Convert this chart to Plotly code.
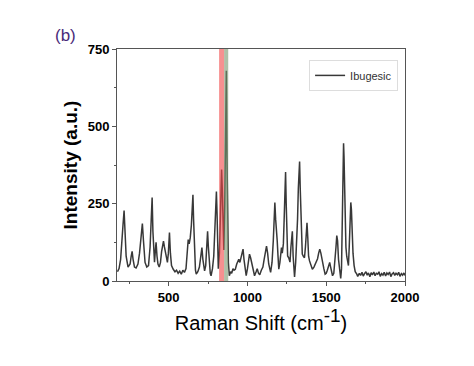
import plotly.graph_objects as go

# Raman shift (cm^-1) and intensity (a.u.)
shift = [175, 185, 195, 202, 210, 217, 222, 230, 242, 255, 262, 268, 274, 283, 293, 305, 315, 325, 333, 340,
         350, 361, 372, 382, 390, 395, 400, 406, 410, 415, 420, 426, 432, 440, 448, 455, 462, 467, 473, 478,
         484, 492, 498, 505, 511, 518, 529, 540, 550, 560, 570, 580, 590, 600, 610, 618, 624, 630, 637, 644,
         650, 654, 658, 664, 670, 675, 685, 695, 703, 711, 717, 723, 728, 735, 741, 747, 752, 758, 764, 769,
         778, 786, 793, 799, 803, 807, 811, 815, 822, 828, 833, 836, 840, 845, 850, 856, 861, 866, 870, 874,
         879, 885, 893, 900, 908, 915, 923, 932, 940, 945, 952, 960, 966, 972, 978, 985, 992, 1000, 1007, 1013,
         1020, 1027, 1035, 1045, 1055, 1062, 1070, 1078, 1088, 1098, 1106, 1114, 1121, 1128, 1135, 1147, 1156, 1164, 1170, 1174,
         1179, 1184, 1189, 1194, 1199, 1206, 1211, 1216, 1221, 1228, 1233, 1238, 1242, 1246, 1250, 1255, 1262, 1270, 1276, 1281,
         1285, 1290, 1294, 1299, 1306, 1313, 1318, 1323, 1327, 1331, 1335, 1340, 1344, 1348, 1355, 1362, 1368, 1373, 1378, 1383,
         1388, 1394, 1402, 1412, 1422, 1430, 1438, 1445, 1452, 1459, 1466, 1472, 1478, 1485, 1493, 1500, 1507, 1514, 1522, 1528,
         1534, 1540, 1548, 1555, 1562, 1567, 1572, 1578, 1585, 1592, 1597, 1601, 1604, 1607, 1610, 1613, 1617, 1621, 1625, 1630,
         1636, 1641, 1646, 1651, 1656, 1660, 1664, 1670, 1677, 1684, 1694, 1700, 1710, 1718, 1727, 1735, 1743, 1752, 1760, 1768,
         1777, 1785, 1793, 1802, 1810, 1818, 1827, 1835, 1843, 1852, 1860, 1868, 1877, 1885, 1893, 1902, 1910, 1918, 1927, 1935,
         1943, 1952, 1960, 1968, 1977, 1985, 1993, 2000]
intensity = [30, 40, 70, 140, 180, 228, 170, 80, 45, 55, 80, 96, 70, 45, 42, 55, 90, 140, 186, 130,
             60, 45, 50, 110, 200, 270, 160, 80, 61, 95, 125, 80, 55, 45, 60, 95, 115, 129, 110, 97,
             75, 60, 90, 157, 90, 50, 38, 30, 35, 25, 32, 22, 35, 28, 40, 90, 134, 120, 140, 180,
             250, 279, 200, 80, 35, 22, 30, 45, 75, 108, 70, 40, 33, 50, 100, 161, 110, 50, 25, 17,
             40, 80, 150, 240, 289, 220, 110, 40, 90, 180, 280, 360, 300, 150, 100, 250, 500, 680, 400, 150,
             60, 17, 30, 25, 40, 35, 38, 55, 65, 70, 60, 80, 95, 103, 70, 30, 17, 40, 70, 87,
             75, 55, 35, 17, 30, 40, 25, 20, 35, 45, 70, 100, 113, 90, 55, 28, 60, 130, 230, 254,
             200, 140, 129, 80, 38, 60, 90, 108, 90, 120, 200, 310, 352, 250, 150, 81, 75, 61, 110, 150,
             161, 80, 30, 13, 60, 120, 200, 300, 360, 386, 300, 180, 110, 87, 80, 75, 110, 160, 188, 140,
             80, 65, 50, 38, 45, 55, 60, 72, 90, 103, 90, 70, 55, 40, 22, 25, 35, 45, 60, 45,
             25, 17, 25, 60, 110, 147, 130, 70, 30, 8, 40, 150, 300, 420, 445, 400, 280, 170, 110, 80,
             60, 50, 110, 200, 254, 230, 160, 90, 50, 30, 22, 15, 25, 18, 28, 16, 24, 30, 19, 26,
             14, 27, 20, 29, 17, 25, 22, 30, 15, 24, 19, 28, 16, 26, 21, 29, 14, 23, 27, 18,
             25, 20, 28, 15, 24, 19, 26, 18]

series_name = "Ibugesic"
x_ticks = [500, 1000, 1500, 2000]
y_ticks = [0, 250, 500, 750]
red_band = [820, 852]
green_band = [852, 878]

fig = go.Figure()
fig.add_trace(go.Scatter(x=shift, y=intensity, mode="lines", name=series_name,
                         line=dict(color="#383838", width=1.5), showlegend=True))

fig.add_shape(type="rect", xref="x", yref="paper", x0=red_band[0], x1=red_band[1], y0=0, y1=1,
              fillcolor="rgba(240,70,70,0.6)", line=dict(width=0), layer="above")
fig.add_shape(type="rect", xref="x", yref="paper", x0=green_band[0], x1=green_band[1], y0=0, y1=1,
              fillcolor="rgba(120,150,110,0.6)", line=dict(width=0), layer="above")

axis_font = dict(family="Arial, Liberation Sans, sans-serif", size=13, color="black")
fig.update_layout(
    width=466, height=358,
    margin=dict(l=109, r=69, t=41, b=85),
    paper_bgcolor="white", plot_bgcolor="white",
    font=dict(family="Arial, Liberation Sans, sans-serif"),
    xaxis=dict(range=[172, 2000], tickvals=x_ticks, ticktext=["<b>%d</b>" % v for v in x_ticks],
               tickfont=axis_font, ticks="outside", ticklen=4, tickcolor="#555",
               minor=dict(ticks="outside", ticklen=2, dtick=250, tickcolor="#555"),
               showline=True, linecolor="#555", linewidth=1, mirror=True, showgrid=False, zeroline=False,
               title=dict(text="Raman Shift (cm<sup><span style='font-size:19px'>-1</span></sup>)",
                          font=dict(size=20, color="black"), standoff=2)),
    yaxis=dict(range=[0, 750], tickvals=y_ticks, ticktext=["<b>%d</b>" % v for v in y_ticks],
               tickfont=axis_font, ticks="outside", ticklen=4, tickcolor="#555",
               minor=dict(ticks="outside", ticklen=2, dtick=125, tickcolor="#555"),
               showline=True, linecolor="#555", linewidth=1, mirror=True, showgrid=False, zeroline=False,
               title=dict(text="<b>Intensity (a.u.)</b>", font=dict(size=19, color="black"), standoff=5)),
    legend=dict(x=0.976, y=0.953, xanchor="right", yanchor="top", bgcolor="white",
                bordercolor="#ddd", borderwidth=1, font=dict(size=11, color="#333"),
                itemwidth=30, tracegroupgap=0),
    annotations=[dict(text="(b)", xref="paper", yref="paper", x=-0.18, y=1.06, xanchor="center",
                      yanchor="middle", showarrow=False, font=dict(size=17, color="#4a2b7a"))],
)

fig.write_html("out.html")
